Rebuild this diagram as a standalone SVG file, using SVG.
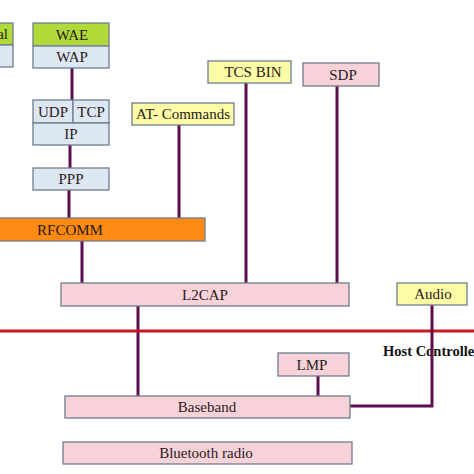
<svg xmlns="http://www.w3.org/2000/svg" width="474" height="474" viewBox="0 0 474 474">
<style>
.b{stroke:#6f7d8f;stroke-width:1.3}
.blue{fill:#dde7f2}
.green{fill:#b0d93a}
.yellow{fill:#fcfca6}
.pink{fill:#f7d3d9}
.orange{fill:#fd8a12}
text{font-family:"Liberation Serif","DejaVu Serif",serif;font-size:15px;fill:#2a1a1a;text-anchor:middle}
.c{stroke:#5c0f4c;stroke-width:3;fill:none}
</style>
<rect width="474" height="474" fill="#ffffff"/>
<g id="connectors">
<line class="c" x1="72" y1="68" x2="72" y2="100"/>
<line class="c" x1="70" y1="145" x2="70" y2="168"/>
<line class="c" x1="69" y1="190" x2="69" y2="218"/>
<line class="c" x1="179" y1="125" x2="179" y2="218"/>
<line class="c" x1="82" y1="241" x2="82" y2="283"/>
<line class="c" x1="246" y1="83" x2="246" y2="283"/>
<line class="c" x1="337" y1="86" x2="337" y2="283"/>
<line class="c" x1="138" y1="306" x2="138" y2="396"/>
<line class="c" x1="318" y1="376" x2="318" y2="396"/>
</g>
<g id="host-controller-line">
<line x1="0" y1="331" x2="474" y2="331" stroke="#c8161f" stroke-width="3"/>
</g>
<g id="host-controller-label">
<text x="383" y="356" style="font-weight:bold;font-size:14.5px;text-anchor:start;fill:#111">Host Controller</text>
</g>
<g id="audio-connector">
<polyline class="c" points="432,305 432,406 349,406"/>
</g>
<g id="left-partial">
<rect class="b green" x="-20" y="23" width="33" height="22"/>
<rect class="b blue" x="-20" y="45" width="33" height="22"/>
<text x="8" y="39" style="text-anchor:end">al</text>
</g>
<g id="wae">
<rect class="b green" x="33" y="23" width="76" height="23"/>
<text x="72" y="39.5">WAE</text>
</g>
<g id="wap">
<rect class="b blue" x="33" y="46" width="76" height="22"/>
<text x="72" y="62">WAP</text>
</g>
<g id="udp">
<rect class="b blue" x="33" y="100" width="40" height="23"/>
<text x="53" y="116.5">UDP</text>
</g>
<g id="tcp">
<rect class="b blue" x="73" y="100" width="36" height="23"/>
<text x="91" y="116.5">TCP</text>
</g>
<g id="ip">
<rect class="b blue" x="33" y="123" width="76" height="22"/>
<text x="71" y="139">IP</text>
</g>
<g id="ppp">
<rect class="b blue" x="33" y="168" width="76" height="22"/>
<text x="71" y="184">PPP</text>
</g>
<g id="at-commands">
<rect class="b yellow" x="132" y="103" width="102" height="22"/>
<text x="183" y="119">AT- Commands</text>
</g>
<g id="tcs-bin">
<rect class="b yellow" x="208" y="61" width="83" height="22"/>
<text x="253" y="77">TCS BIN</text>
</g>
<g id="sdp">
<rect class="b pink" x="303" y="63" width="76" height="23"/>
<text x="343" y="79.5">SDP</text>
</g>
<g id="rfcomm">
<rect class="b orange" x="-10" y="218" width="215" height="23"/>
<text x="70" y="234.5">RFCOMM</text>
</g>
<g id="l2cap">
<rect class="b pink" x="61" y="283" width="288" height="23"/>
<text x="205" y="299.5">L2CAP</text>
</g>
<g id="audio">
<rect class="b yellow" x="397" y="283" width="70" height="22"/>
<text x="433" y="299">Audio</text>
</g>
<g id="lmp">
<rect class="b pink" x="278" y="353" width="71" height="23"/>
<text x="312" y="369.5">LMP</text>
</g>
<g id="baseband">
<rect class="b pink" x="65" y="396" width="285" height="22"/>
<text x="207" y="412">Baseband</text>
</g>
<g id="bluetooth-radio">
<rect class="b pink" x="63" y="442" width="289" height="22"/>
<text x="206" y="458">Bluetooth radio</text>
</g>
</svg>
